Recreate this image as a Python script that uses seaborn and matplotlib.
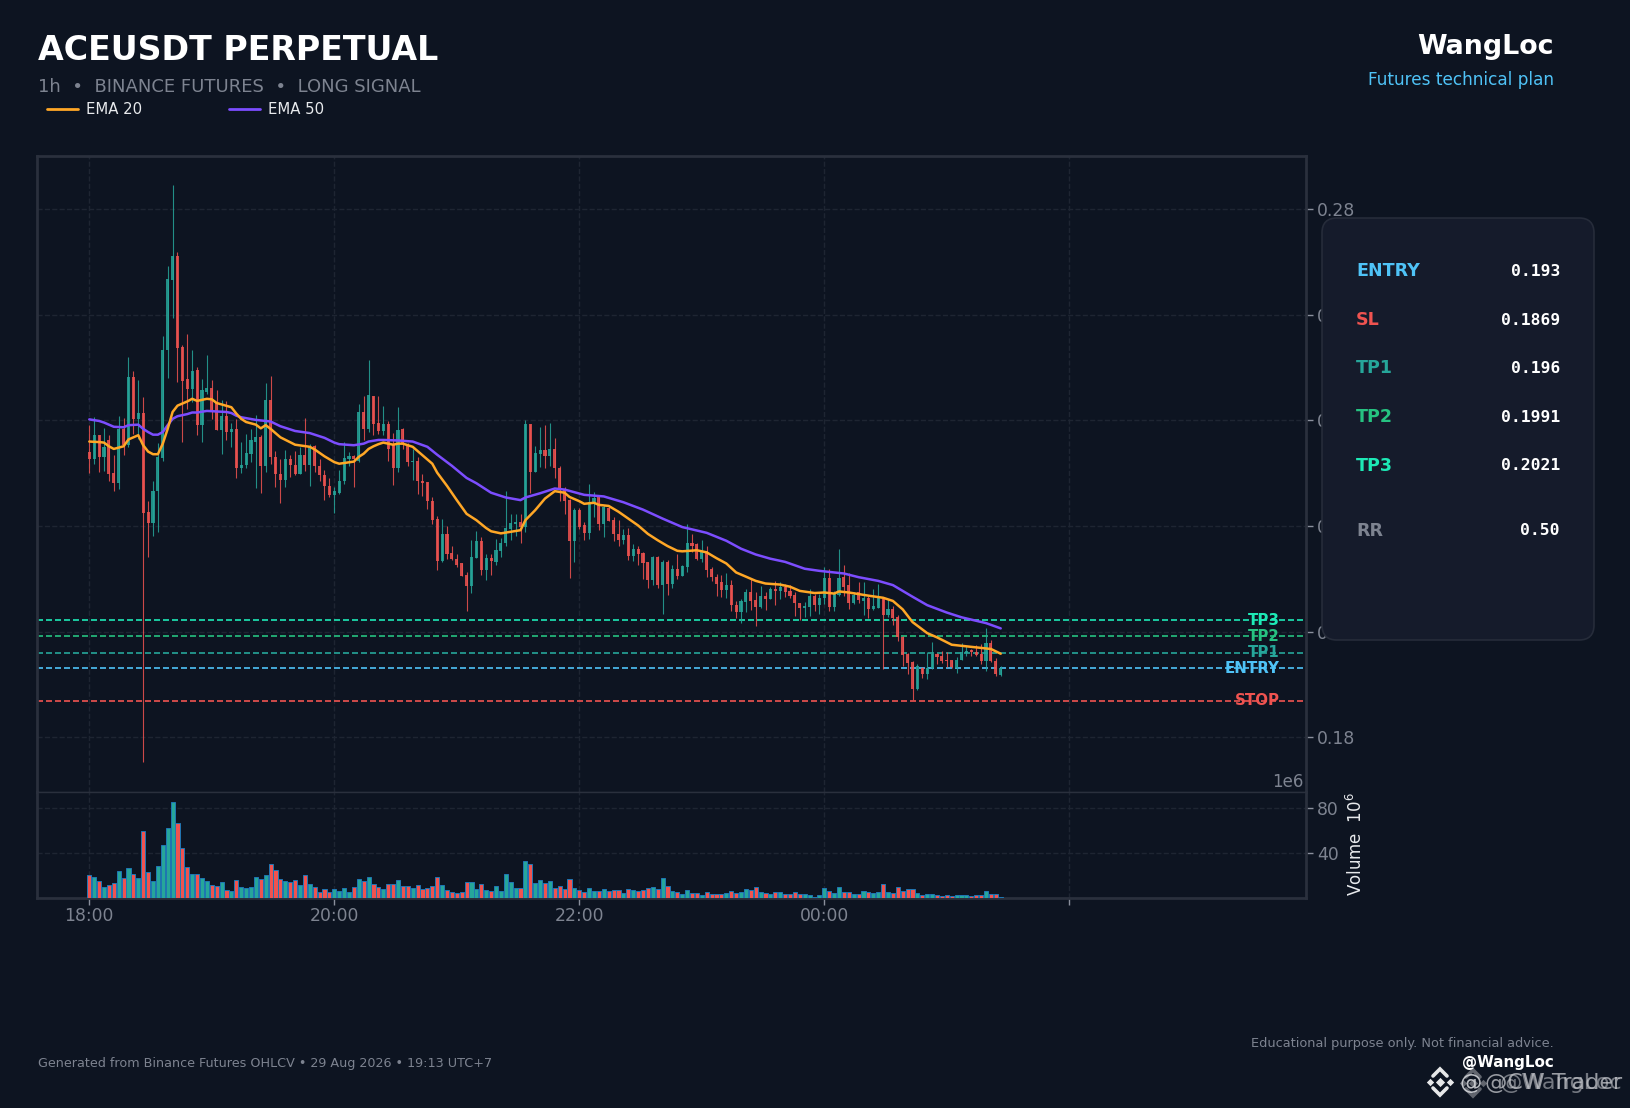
import pandas as pd
import matplotlib
matplotlib.use('Agg')
import matplotlib.pyplot as plt
from matplotlib.lines import Line2D
from matplotlib.patches import FancyBboxPatch
from matplotlib.transforms import blended_transform_factory
import seaborn as sns

# --- values ---
time_ticks = [0, 50, 100, 150, 200]
time_labels = ['18:00', '20:00', '22:00', '00:00', '']
price_ticks = [0.18, 0.20, 0.22, 0.24, 0.26, 0.28]
volume_ticks = [40e6, 80e6]

opens = [.2340,.2326,.2373,.2331,.2362,.2301,.2282,.2383,.2354,.2482,
         .2403,.2415,.2226,.2206,.2266,.2329,.2533,.2667,.2712,.2540,
         .2479,.2460,.2496,.2392,.2454,.2462,.2435,.2381,.2409,.2379,
         .2384,.2309,.2315,.2337,.2359,.2369,.2313,.2439,.2331,.2299,
         .2288,.2326,.2316,.2299,.2335,.2315,.2351,.2314,.2297,.2276,
         .2259,.2263,.2285,.2327,.2333,.2324,.2416,.2383,.2447,.2396,
         .2380,.2394,.2356,.2310,.2384,.2356,.2321,.2324,.2286,.2283,
         .2248,.2214,.2134,.2185,.2148,.2138,.2129,.2108,.2087,.2140,
         .2172,.2117,.2140,.2131,.2153,.2167,.2195,.2204,.2208,.2199,
         .2394,.2302,.2337,.2344,.2332,.2346,.2310,.2271,.2250,.2172,
         .2231,.2201,.2187,.2244,.2254,.2204,.2234,.2212,.2185,.2174,
         .2182,.2143,.2157,.2148,.2131,.2097,.2142,.2089,.2131,.2091,
         .2119,.2106,.2123,.2168,.2165,.2138,.2153,.2118,.2104,.2093,
         .2078,.2088,.2051,.2037,.2056,.2074,.2059,.2046,.2068,.2061,
         .2080,.2076,.2084,.2076,.2069,.2055,.2045,.2047,.2067,.2050,
         .2064,.2101,.2047,.2069,.2103,.2088,.2054,.2074,.2057,.2064,
         .2042,.2045,.2061,.2031,.2042,.2027,.1990,.1958,.1943,.1891,
         .1931,.1919,.1930,.1957,.1953,.1947,.1946,.1931,.1946,.1960,
         .1965,.1962,.1958,.1944,.1979,.1945,.1917]
closes = [.2326,.2373,.2331,.2350,.2299,.2282,.2383,.2354,.2482,.2403,
          .2415,.2225,.2206,.2267,.2330,.2534,.2668,.2712,.2538,.2475,
          .2460,.2494,.2392,.2458,.2462,.2417,.2381,.2409,.2379,.2384,
          .2309,.2316,.2339,.2362,.2369,.2313,.2439,.2330,.2298,.2288,
          .2326,.2315,.2299,.2335,.2315,.2351,.2313,.2296,.2275,.2259,
          .2266,.2286,.2329,.2333,.2327,.2416,.2383,.2449,.2394,.2380,
          .2394,.2346,.2310,.2382,.2356,.2321,.2324,.2285,.2282,.2247,
          .2212,.2134,.2185,.2146,.2137,.2127,.2106,.2087,.2141,.2172,
          .2117,.2140,.2133,.2155,.2168,.2197,.2206,.2208,.2198,.2394,
          .2303,.2338,.2344,.2332,.2346,.2309,.2271,.2248,.2172,.2231,
          .2199,.2187,.2245,.2253,.2204,.2236,.2210,.2184,.2174,.2182,
          .2144,.2157,.2146,.2129,.2097,.2142,.2089,.2131,.2091,.2119,
          .2106,.2124,.2168,.2162,.2138,.2152,.2117,.2103,.2091,.2078,
          .2088,.2050,.2037,.2057,.2074,.2057,.2046,.2068,.2062,.2080,
          .2076,.2085,.2075,.2068,.2054,.2044,.2048,.2067,.2050,.2064,
          .2101,.2047,.2071,.2102,.2085,.2054,.2069,.2059,.2064,.2042,
          .2048,.2064,.2032,.2042,.2025,.1990,.1955,.1941,.1891,.1934,
          .1919,.1931,.1957,.1951,.1945,.1944,.1932,.1947,.1961,.1963,
          .1962,.1955,.1944,.1979,.1944,.1920,.1931]
highs = [.2391,.2406,.2373,.2385,.2373,.2334,.2408,.2404,.2520,.2493,
         .2476,.2444,.2247,.2285,.2358,.2560,.2692,.2846,.2719,.2543,
         .2563,.2533,.2501,.2479,.2524,.2476,.2457,.2438,.2437,.2395,
         .2402,.2359,.2375,.2384,.2411,.2373,.2471,.2484,.2343,.2327,
         .2344,.2334,.2343,.2350,.2404,.2356,.2353,.2327,.2307,.2291,
         .2274,.2307,.2360,.2340,.2335,.2431,.2447,.2514,.2447,.2446,
         .2427,.2398,.2376,.2425,.2386,.2357,.2346,.2331,.2299,.2283,
         .2255,.2219,.2213,.2200,.2163,.2147,.2129,.2112,.2174,.2191,
         .2179,.2146,.2146,.2176,.2177,.2266,.2222,.2223,.2223,.2400,
         .2394,.2351,.2387,.2392,.2396,.2367,.2314,.2274,.2252,.2234,
         .2234,.2208,.2280,.2264,.2255,.2239,.2236,.2217,.2211,.2194,
         .2196,.2165,.2163,.2150,.2131,.2144,.2143,.2135,.2135,.2126,
         .2146,.2127,.2204,.2185,.2167,.2173,.2162,.2123,.2109,.2107,
         .2110,.2097,.2058,.2062,.2081,.2099,.2074,.2086,.2074,.2085,
         .2096,.2094,.2091,.2088,.2075,.2055,.2056,.2081,.2072,.2071,
         .2122,.2118,.2077,.2157,.2126,.2110,.2074,.2093,.2093,.2068,
         .2081,.2091,.2064,.2061,.2049,.2031,.1992,.1959,.1944,.1938,
         .1933,.1962,.1980,.1960,.1963,.1962,.1946,.1952,.1979,.1973,
         .1967,.1975,.1976,.2006,.1984,.1949,.1935]
lows = [.2301,.2318,.2303,.2305,.2285,.2266,.2271,.2335,.2349,.2375,
        .2365,.1752,.2141,.2181,.2189,.2324,.2481,.2594,.2473,.2359,
        .2422,.2435,.2373,.2360,.2450,.2402,.2381,.2336,.2362,.2349,
        .2291,.2300,.2310,.2321,.2272,.2262,.2302,.2318,.2274,.2244,
        .2274,.2293,.2296,.2299,.2304,.2276,.2302,.2286,.2250,.2255,
        .2225,.2260,.2280,.2314,.2274,.2322,.2362,.2378,.2373,.2374,
        .2373,.2324,.2277,.2302,.2346,.2313,.2288,.2261,.2257,.2233,
        .2203,.2116,.2131,.2137,.2135,.2122,.2106,.2038,.2073,.2139,
        .2107,.2097,.2108,.2127,.2141,.2163,.2173,.2181,.2167,.2189,
        .2263,.2302,.2311,.2310,.2314,.2291,.2247,.2223,.2101,.2131,
        .2194,.2173,.2175,.2217,.2192,.2180,.2210,.2171,.2163,.2165,
        .2136,.2134,.2127,.2100,.2083,.2088,.2083,.2034,.2069,.2083,
        .2100,.2106,.2113,.2151,.2135,.2132,.2103,.2096,.2068,.2066,
        .2063,.2039,.2026,.2017,.2037,.2040,.2011,.2044,.2040,.2061,
        .2050,.2062,.2066,.2063,.2030,.2022,.2028,.2030,.2039,.2033,
        .2052,.2038,.2038,.2068,.2068,.2042,.2052,.2055,.2032,.2026,
        .2041,.2044,.1929,.2028,.2012,.1982,.1935,.1919,.1870,.1890,
        .1912,.1910,.1929,.1938,.1941,.1932,.1931,.1922,.1946,.1954,
        .1954,.1954,.1939,.1926,.1943,.1916,.1916]
# volume in millions
volumes = [20.1,18.4,15.1,9.8,11.6,13.3,24.0,17.5,26.7,21.0,
           17.8,60.1,22.8,15.1,28.4,47.1,62.2,85.9,66.7,44.4,
           28.1,21.0,21.0,17.5,15.1,11.6,10.4,13.9,6.8,5.9,
           15.7,9.8,8.9,9.8,18.4,16.9,20.1,29.9,24.9,16.9,
           15.1,13.9,15.7,11.6,20.1,12.1,9.8,5.0,8.0,5.0,
           8.0,6.2,8.9,5.3,9.8,16.9,15.1,18.4,12.1,9.8,
           8.0,12.1,12.1,15.7,10.4,10.4,8.9,11.6,7.7,8.9,
           10.4,18.4,11.6,6.8,5.0,4.1,5.0,13.9,13.9,8.0,
           12.1,7.1,6.2,10.7,6.2,21.0,13.9,8.9,8.9,32.9,
           29.9,13.3,16.0,13.3,15.1,8.6,10.4,8.0,16.9,8.9,
           7.4,5.0,8.9,6.2,6.2,8.0,6.2,7.1,7.1,4.4,
           8.0,7.1,6.2,7.1,8.9,9.8,8.0,17.8,10.7,6.2,
           5.3,3.6,7.1,4.4,4.4,2.4,5.3,3.3,3.3,3.3,
           4.4,6.2,4.4,5.3,8.0,7.1,9.8,5.3,4.4,3.3,
           5.3,5.3,3.3,3.3,5.3,3.3,3.3,2.4,1.2,2.4,
           8.9,6.2,4.4,9.8,5.3,5.3,3.3,3.3,6.2,5.3,
           4.4,5.3,12.4,5.3,4.4,9.8,6.2,8.0,8.0,4.4,
           2.4,3.6,3.6,2.4,1.5,2.4,1.5,2.4,2.4,2.4,
           1.5,2.4,2.4,6.2,3.3,3.3,0.9]

ema20_bar = [0,2,3,4,5,7,8,10,11,12,13,14,15,16,17,18,20,21,22,24,25,26,29,30,31,32,34,35,36,37,39,42,45,46,48,50,51,54,55,56,57,58,59,
             60,62,63,64,66,68,70,71,73,75,77,79,81,82,84,86,88,89,91,93,95,97,98,100,101,103,104,106,108,110,112,114,116,118,120,121,124,
             126,128,130,132,134,136,138,141,143,145,148,150,152,153,155,159,162,164,166,168,170,171,173,176,178,181,184,186]
ema20 = [.2360,.2359,.2358,.2351,.2346,.2351,.2364,.2372,.2353,.2341,.2336,.2336,.2356,.2384,.2416,.2428,.2436,.2441,.2437,.2441,.2440,.2433,.2425,.2413,.2403,.2397,.2392,.2385,.2391,.2384,.2368,.2354,.2350,.2345,.2332,.2321,.2318,.2322,.2331,.2337,.2346,.2351,.2355,
         .2358,.2354,.2356,.2356,.2350,.2334,.2318,.2301,.2276,.2249,.2223,.2211,.2196,.2190,.2186,.2189,.2192,.2211,.2230,.2252,.2266,.2263,.2255,.2247,.2242,.2244,.2240,.2238,.2227,.2214,.2201,.2185,.2173,.2162,.2153,.2152,.2154,
         .2150,.2139,.2129,.2112,.2104,.2096,.2091,.2089,.2085,.2077,.2073,.2074,.2072,.2076,.2074,.2068,.2064,.2058,.2042,.2018,.2004,.1997,.1989,.1975,.1973,.1970,.1967,.1958]
ema50_bar = [0,2,3,5,7,8,10,11,12,13,14,15,16,17,18,20,21,22,24,26,28,29,30,31,34,37,39,42,45,46,48,50,51,54,56,57,59,
             60,63,66,69,71,74,77,79,82,85,88,89,92,95,97,101,105,109,113,117,121,
             126,130,133,136,139,142,146,149,154,157,161,164,166,168,171,175,178,183,186]
ema50 = [.2402,.2399,.2396,.2388,.2387,.2391,.2392,.2384,.2378,.2373,.2373,.2378,.2391,.2403,.2408,.2412,.2415,.2415,.2418,.2417,.2416,.2414,.2409,.2406,.2401,.2398,.2389,.2380,.2376,.2373,.2367,.2358,.2355,.2353,.2356,.2360,.2363,
         .2363,.2362,.2360,.2350,.2335,.2314,.2291,.2281,.2263,.2254,.2249,.2254,.2262,.2271,.2269,.2259,.2256,.2245,.2231,.2214,.2198,
         .2187,.2172,.2157,.2146,.2138,.2132,.2119,.2115,.2110,.2103,.2096,.2088,.2077,.2066,.2050,.2036,.2027,.2016,.2006]

level_names = ['TP3', 'TP2', 'TP1', 'ENTRY', 'STOP']
level_prices = [0.2021, 0.1991, 0.196, 0.193, 0.1869]
level_colors = ['#1de9b6', '#26c281', '#26a69a', '#4fc3f7', '#ef5350']

panel_names = ['ENTRY', 'SL', 'TP1', 'TP2', 'TP3', 'RR']
panel_values = ['0.193', '0.1869', '0.196', '0.1991', '0.2021', '0.50']
panel_colors = ['#4fc3f7', '#ef5350', '#26a69a', '#26c281', '#1de9b6', '#7d8390']

# --- colours / layout ---
BG = '#0d1421'
UP = '#26a69a'
DOWN = '#ef5350'
GRID = '#1e2532'
FRAME = '#2a303d'
MUTED = '#7d8390'
W, H = 1631, 1108

sns.set_theme(style='dark')
plt.rcParams['font.family'] = ['DejaVu Sans']
plt.rcParams['axes.facecolor'] = BG
plt.rcParams['figure.facecolor'] = BG

df = pd.DataFrame({'bar': range(len(opens)), 'open': opens, 'high': highs, 'low': lows,
                   'close': closes, 'volume': [v * 1e6 for v in volumes]})
df['up'] = df['close'] >= df['open']
df['color'] = df['up'].map({True: UP, False: DOWN})

fig = plt.figure(figsize=(W / 100, H / 100), dpi=100)
ax = fig.add_axes([37 / W, 1 - 792 / H, (1306 - 37) / W, (792 - 156) / H])
ax_vol = fig.add_axes([37 / W, 1 - 898 / H, (1306 - 37) / W, (898 - 792) / H])

# candles
ax.vlines(df['bar'], df['low'], df['high'], colors=df['color'], linewidth=0.8, alpha=0.85, zorder=3)
ax.bar(df['bar'], (df['close'] - df['open']).abs(), bottom=df[['open', 'close']].min(axis=1),
       width=0.62, color=df['color'], alpha=0.85, linewidth=0, zorder=3)

# EMA lines
sns.lineplot(x=ema20_bar, y=ema20, color='#ffa726', linewidth=1.8, ax=ax, zorder=5, errorbar=None)
sns.lineplot(x=ema50_bar, y=ema50, color='#7c4dff', linewidth=1.8, ax=ax, zorder=4, errorbar=None)

# trade levels
for name, price, col in zip(level_names, level_prices, level_colors):
    ax.axhline(price, color=col, linestyle=(0, (3.6, 1.8)), linewidth=1.2, zorder=2)

# volume
sns.barplot(data=df, x='bar', y='volume', hue='up', palette={True: UP, False: DOWN}, native_scale=True,
            dodge=False, legend=False, width=0.85, errorbar=None, edgecolor='#1f77b4', linewidth=0.7,
            saturation=1, ax=ax_vol, zorder=3)

for a in (ax, ax_vol):
    a.set_xlim(-10.67, 248.3)
    a.set_xticks(time_ticks)
    a.grid(True, color=GRID, linestyle='--', linewidth=1)
    a.set_axisbelow(True)
    a.yaxis.tick_right()
    a.set_xlabel('')
    a.set_ylabel('')
    a.tick_params(axis='both', colors='#8a8f9c', labelcolor=MUTED, labelsize=12.4, length=5, width=1,
                  bottom=True, right=True, left=False)
    a.tick_params(axis='y', pad=3)
    a.tick_params(axis='x', pad=1.5)
    for side in a.spines:
        a.spines[side].set_color(FRAME)
        a.spines[side].set_linewidth(2)
        a.spines[side].set_visible(True)

ax.set_ylim(0.1696, 0.2901)
ax.set_yticks(price_ticks)
ax.set_yticklabels([f'{t:.2f}' for t in price_ticks])
ax.tick_params(axis='x', bottom=False, labelbottom=False)
ax.spines['bottom'].set_linewidth(1)
ax_vol.spines['top'].set_linewidth(1)

ax_vol.set_xticklabels(time_labels)
ax_vol.set_ylim(0, 94.6e6)
ax_vol.set_yticks(volume_ticks)
ax_vol.set_yticklabels([f'{t / 1e6:.0f}' for t in volume_ticks])

# overlay in pixel units for header, footer and info panel
top = fig.add_axes([0, 0, 1, 1], zorder=10)
top.set_xlim(0, W)
top.set_ylim(H, 0)
top.axis('off')
top.patch.set_alpha(0)

top.text(38, 50, 'ACEUSDT PERPETUAL', color='white', fontsize=23.95, fontweight='bold', va='center')
top.text(38, 87, '1h  •  BINANCE FUTURES  •  LONG SIGNAL', color=MUTED, fontsize=12.95, va='center')
top.text(1554, 47, 'WangLoc', color='white', fontsize=19.4, fontweight='bold', ha='right', va='center')
top.text(1554, 80, 'Futures technical plan', color='#4fc3f7', fontsize=12.15, ha='right', va='center')

handles = [Line2D([], [], color='#ffa726', linewidth=2), Line2D([], [], color='#7c4dff', linewidth=2)]
leg = top.legend(handles, ['EMA 20', 'EMA 50'], ncol=2, frameon=False, fontsize=10.7, labelcolor='#e8eaed',
                 loc='center left', bbox_to_anchor=(47 / W, 1 - 110 / H), borderpad=0, borderaxespad=0,
                 handlelength=2.08, handletextpad=0.54, columnspacing=5.85)

# level labels sit on their lines
label_tr = blended_transform_factory(top.transData, ax.transData)
for name, price, col in zip(level_names, level_prices, level_colors):
    ax.text(1280, price, name, color=col, fontsize=10.8, fontweight='bold', ha='right', va='center',
            transform=label_tr, zorder=6)

top.text(1304, 782, '1e6', color=MUTED, fontsize=12, ha='right', va='center')
top.text(1356, 844, 'Volume  $10^{6}$', color='#e8eaed', fontsize=12, rotation=90, ha='center', va='center')

# info panel
top.add_patch(FancyBboxPatch((1337, 233), 242, 392, boxstyle='round,pad=15,rounding_size=15',
                             facecolor='#151b2b', edgecolor='#262c3a', linewidth=1.2))
row_y = [271.5, 320.4, 368.2, 417.1, 466, 530.5]
for y, name, val, col in zip(row_y, panel_names, panel_values, panel_colors):
    top.text(1356, y, name, color=col, fontsize=12.6, fontweight='bold', va='center')
    top.text(1560, y, val, color='white', fontsize=11.8, fontweight='bold', family='DejaVu Sans Mono',
             ha='right', va='center')

# footer
top.text(38, 1064, 'Generated from Binance Futures OHLCV • 29 Aug 2026 • 19:13 UTC+7', color=MUTED,
         fontsize=9.2, va='center')
top.text(1554, 1043, 'Educational purpose only. Not financial advice.', color=MUTED, fontsize=9.25,
         ha='right', va='center')
top.text(1554, 1063, '@WangLoc', color='white', fontsize=10.9, fontweight='bold', ha='right', va='center')


def binance_logo(cx, cy, alpha):
    # four chevrons and a centre square, like the exchange mark on the watermark
    for sign in (-1, 1):
        top.plot([cx - 7, cx, cx + 7], [cy + sign * 6, cy + sign * 13, cy + sign * 6], color='white',
                 alpha=alpha, linewidth=2.6, solid_joinstyle='miter')
        top.scatter([cx + sign * 10], [cy], marker='D', s=14, color='white', alpha=alpha, linewidths=0)
    top.scatter([cx], [cy], marker='D', s=22, color='white', alpha=alpha, linewidths=0)


binance_logo(1440, 1082, 0.9)
binance_logo(1473, 1083, 0.35)
top.text(1460, 1083, '@', color='#d8dade', fontsize=16, va='center', alpha=0.85)
top.text(1622, 1083, '@CW Trader', color='#c8cacf', fontsize=16, ha='right', va='center', alpha=0.75)
top.text(1622, 1083, '@WangLoc', color='#c8cacf', fontsize=16, ha='right', va='center', alpha=0.55)

fig.savefig('out.png', dpi=100, facecolor=BG)
